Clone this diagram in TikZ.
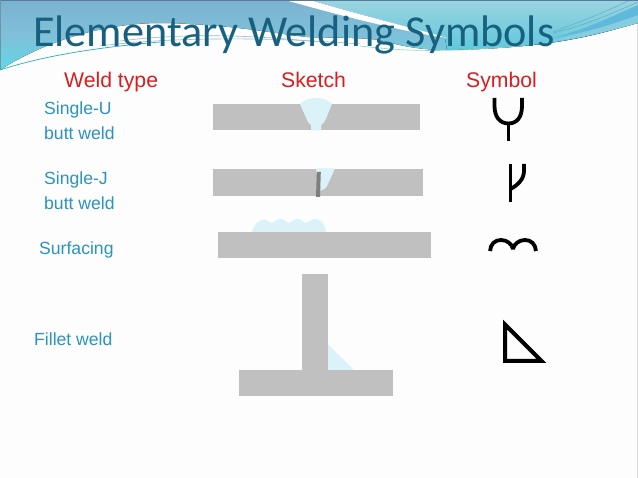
\documentclass[tikz,border=0pt]{standalone}
\usepackage{fontspec}
\setmainfont{Liberation Sans}
\newfontfamily\titlefont{Carlito}
\definecolor{pagebg}{HTML}{FDFDFD}
\definecolor{metal}{HTML}{C0C0C0}
\definecolor{weld}{HTML}{DAF2F8}
\definecolor{darkbar}{HTML}{7F7F7F}
\definecolor{titleblue}{HTML}{17607F}
\definecolor{headred}{HTML}{D81E1E}
\definecolor{labelblue}{HTML}{2A93BE}
\definecolor{skyA}{RGB}{122,178,208}
\definecolor{skyM}{RGB}{128,192,216}
\definecolor{skyB}{RGB}{96,215,230}
\definecolor{tealA}{RGB}{155,212,224}
\definecolor{tealB}{RGB}{95,200,220}
\definecolor{bandblue}{RGB}{95,185,218}
\definecolor{bandlight}{RGB}{135,205,225}
\definecolor{lineA}{RGB}{40,175,175}
\definecolor{lineB}{RGB}{150,190,215}
\definecolor{lineC}{RGB}{150,215,195}
\definecolor{lineD}{RGB}{100,170,195}
\definecolor{edgeA}{RGB}{85,125,155}
\definecolor{edgeB}{RGB}{110,150,170}
\definecolor{edgeC}{RGB}{215,215,215}
\tikzset{
  x=1pt,y=-1pt,
  plate/.style={fill=metal,draw=none},
  bead/.style={fill=weld,draw=none},
  sym/.style={draw=black,line width=3.8pt,fill=none},
  headtext/.style={anchor=base west,text=headred,font=\fontsize{21.2}{21.2}\selectfont,inner sep=0pt},
  rowtext/.style={anchor=base west,text=labelblue,font=\fontsize{17.6}{17.6}\selectfont,inner sep=0pt},
}
\begin{document}
\begin{tikzpicture}
\useasboundingbox (0,0) rectangle (638,478);
\fill[pagebg] (0,0) rectangle (638,478);
% header swooshes
\fill[top color=skyA,bottom color=skyB,middle color=skyM]
  (0,0) -- (638,0) -- (638,23) .. controls (600,33) and (560,48) .. (447,50)
  .. controls (415,50) and (395,44) .. (380,40)
  .. controls (355,37) and (330,38) .. (307,37)
  .. controls (270,33) and (230,24) .. (160,23)
  .. controls (110,23) and (50,38) .. (0,70) -- cycle;
\fill[top color=tealA,bottom color=tealB]
  (310,0) -- (638,0) -- (638,23) .. controls (600,33) and (560,48) .. (447,50)
  -- (445,38) .. controls (410,27) and (360,15) .. (310,0) -- cycle;
\fill[white] (285,0) -- (310,0) .. controls (360,15) and (410,27) .. (447,38)
  .. controls (410,33) and (345,17) .. (285,0) -- cycle;
\fill[bandlight] (638,5) -- (638,23) .. controls (605,32) and (585,37) .. (553,41) .. controls (590,30) and (610,18) .. (638,5) -- cycle;
\fill[bandblue] (638,5) -- (638,15) .. controls (610,25) and (585,33) .. (553,38) .. controls (590,28) and (610,17) .. (638,5) -- cycle;
\draw[lineA,line width=0.7pt] (0,70) .. controls (40,57) and (90,48) .. (160,42);
\draw[lineB,line width=0.6pt] (100,46) .. controls (160,38) and (260,36) .. (360,44);
\draw[lineB,line width=0.6pt] (120,41) .. controls (190,32) and (260,36) .. (320,42);
\draw[lineC,line width=0.6pt] (360,46) .. controls (410,52) and (450,52) .. (520,46);
\draw[lineD,line width=0.5pt] (553,32) .. controls (585,20) and (610,10) .. (630,0);
\draw[lineD,line width=0.5pt] (553,33) .. controls (590,24) and (615,12) .. (638,2);
\draw[edgeA,line width=1pt] (0,0.5) -- (638,0.5);
\draw[edgeB,line width=1pt] (0.5,0) -- (0.5,70);
\draw[edgeC,line width=1pt] (637,25) -- (637,478);
\node[anchor=base west,inner sep=0pt,text=titleblue,font=\titlefont\fontsize{44.2}{44.2}\selectfont] (title) at (33,47) {Elementary Welding Symbols};
% column heads
\node[headtext] (headtype) at (64,87.5) {Weld type};
\node[headtext] (headsketch) at (281,87.5) {Sketch};
\node[headtext] (headsymbol) at (466,87.5) {Symbol};
% row labels
\node[rowtext] (ua) at (44,115) {Single-U};
\node[rowtext] (ub) at (44,140) {butt weld};
\node[rowtext] (ja) at (44,185) {Single-J};
\node[rowtext] (jb) at (44,210) {butt weld};
\node[rowtext] (sf) at (39,255) {Surfacing};
\node[rowtext] (fw) at (34,345.5) {Fillet weld};
% sketches
\fill[plate] (213,104) rectangle (420,130.5);
\fill[bead] (300,104) .. controls (304,100) and (310,98) .. (316,98) .. controls (322,98) and (328,100) .. (332,104)
  -- (325,121) .. controls (324,123) and (322,124) .. (321,125) -- (321,130.5) -- (311,130.5) -- (311,125)
  .. controls (310,124) and (308,123) .. (307.5,121) -- cycle;
\fill[plate] (213,169.5) rectangle (423,196);
\fill[bead] (316,169) -- (317,168.5) -- (335,168.5) -- (327,186) .. controls (326,188) and (324,190) .. (321,190.5) -- (319,190) -- cycle;
\fill[darkbar] (316.8,172) -- (320.8,172) -- (320,197) -- (316,197) -- cycle;
\fill[plate] (218,232) rectangle (431,258);
\fill[bead] (252,232) .. controls (253,226) and (258,220) .. (264,219.5)
  .. controls (267,219.5) and (270,223) .. (272,223) .. controls (275,222) and (277,219) .. (281,219)
  .. controls (284,219) and (287,223) .. (289,223) .. controls (292,222) and (294,219) .. (298,219)
  .. controls (301,219) and (304,223) .. (306,223) .. controls (309,222) and (311,219) .. (315,219)
  .. controls (320,219) and (325,224) .. (326,232) -- cycle;
\fill[bead] (328,344.5) -- (354,370) -- (328,370) -- cycle;
\fill[plate] (302,274) rectangle (328,371);
\fill[plate] (239,370) rectangle (393,396);
% symbols
\draw[sym] (494.5,98) -- (494.5,106) .. controls (494.5,117) and (500,123.5) .. (508.5,123.5) .. controls (517,123.5) and (522,117) .. (522,106) -- (522,98);
\draw[sym] (508.5,123.5) -- (508.5,141);
\draw[sym] (510.5,164) -- (510.5,202);
\draw[sym] (524,164) -- (524,171) .. controls (524,179) and (518,185) .. (510.5,189);
\draw[sym,line join=bevel] (490,251) .. controls (490.5,244) and (495,240) .. (501,240) .. controls (507,240) and (512,244) .. (513,249)
  .. controls (514,244) and (519,240) .. (525,240) .. controls (531,240) and (535.5,244) .. (536,251);
\draw[sym,line width=4pt,line join=miter] (505,324.5) -- (505,361) -- (541.5,361) -- cycle;
\end{tikzpicture}
\end{document}
